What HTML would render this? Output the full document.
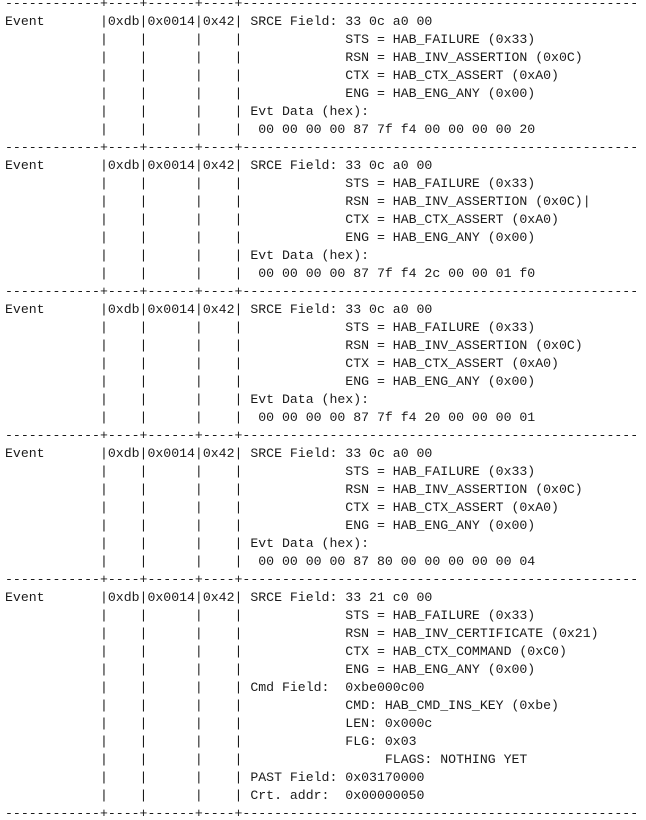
<!DOCTYPE html>
<html><head><meta charset="utf-8"><style>
html,body{margin:0;padding:0;background:#fff;width:646px;height:820px;overflow:hidden}
pre{margin:-5px 0 0 5px;font-family:"Liberation Mono",monospace;font-size:13.2px;line-height:18px;color:#1a1a1a}
</style></head><body><pre>------------+----+------+----+--------------------------------------------------
Event       |0xdb|0x0014|0x42| SRCE Field: 33 0c a0 00
            |    |      |    |             STS = HAB_FAILURE (0x33)
            |    |      |    |             RSN = HAB_INV_ASSERTION (0x0C)
            |    |      |    |             CTX = HAB_CTX_ASSERT (0xA0)
            |    |      |    |             ENG = HAB_ENG_ANY (0x00)
            |    |      |    | Evt Data (hex):
            |    |      |    |  00 00 00 00 87 7f f4 00 00 00 00 20
------------+----+------+----+--------------------------------------------------
Event       |0xdb|0x0014|0x42| SRCE Field: 33 0c a0 00
            |    |      |    |             STS = HAB_FAILURE (0x33)
            |    |      |    |             RSN = HAB_INV_ASSERTION (0x0C)|
            |    |      |    |             CTX = HAB_CTX_ASSERT (0xA0)
            |    |      |    |             ENG = HAB_ENG_ANY (0x00)
            |    |      |    | Evt Data (hex):
            |    |      |    |  00 00 00 00 87 7f f4 2c 00 00 01 f0
------------+----+------+----+--------------------------------------------------
Event       |0xdb|0x0014|0x42| SRCE Field: 33 0c a0 00
            |    |      |    |             STS = HAB_FAILURE (0x33)
            |    |      |    |             RSN = HAB_INV_ASSERTION (0x0C)
            |    |      |    |             CTX = HAB_CTX_ASSERT (0xA0)
            |    |      |    |             ENG = HAB_ENG_ANY (0x00)
            |    |      |    | Evt Data (hex):
            |    |      |    |  00 00 00 00 87 7f f4 20 00 00 00 01
------------+----+------+----+--------------------------------------------------
Event       |0xdb|0x0014|0x42| SRCE Field: 33 0c a0 00
            |    |      |    |             STS = HAB_FAILURE (0x33)
            |    |      |    |             RSN = HAB_INV_ASSERTION (0x0C)
            |    |      |    |             CTX = HAB_CTX_ASSERT (0xA0)
            |    |      |    |             ENG = HAB_ENG_ANY (0x00)
            |    |      |    | Evt Data (hex):
            |    |      |    |  00 00 00 00 87 80 00 00 00 00 00 04
------------+----+------+----+--------------------------------------------------
Event       |0xdb|0x0014|0x42| SRCE Field: 33 21 c0 00
            |    |      |    |             STS = HAB_FAILURE (0x33)
            |    |      |    |             RSN = HAB_INV_CERTIFICATE (0x21)
            |    |      |    |             CTX = HAB_CTX_COMMAND (0xC0)
            |    |      |    |             ENG = HAB_ENG_ANY (0x00)
            |    |      |    | Cmd Field:  0xbe000c00
            |    |      |    |             CMD: HAB_CMD_INS_KEY (0xbe)
            |    |      |    |             LEN: 0x000c
            |    |      |    |             FLG: 0x03
            |    |      |    |                  FLAGS: NOTHING YET
            |    |      |    | PAST Field: 0x03170000
            |    |      |    | Crt. addr:  0x00000050
------------+----+------+----+--------------------------------------------------
</pre></body></html>
